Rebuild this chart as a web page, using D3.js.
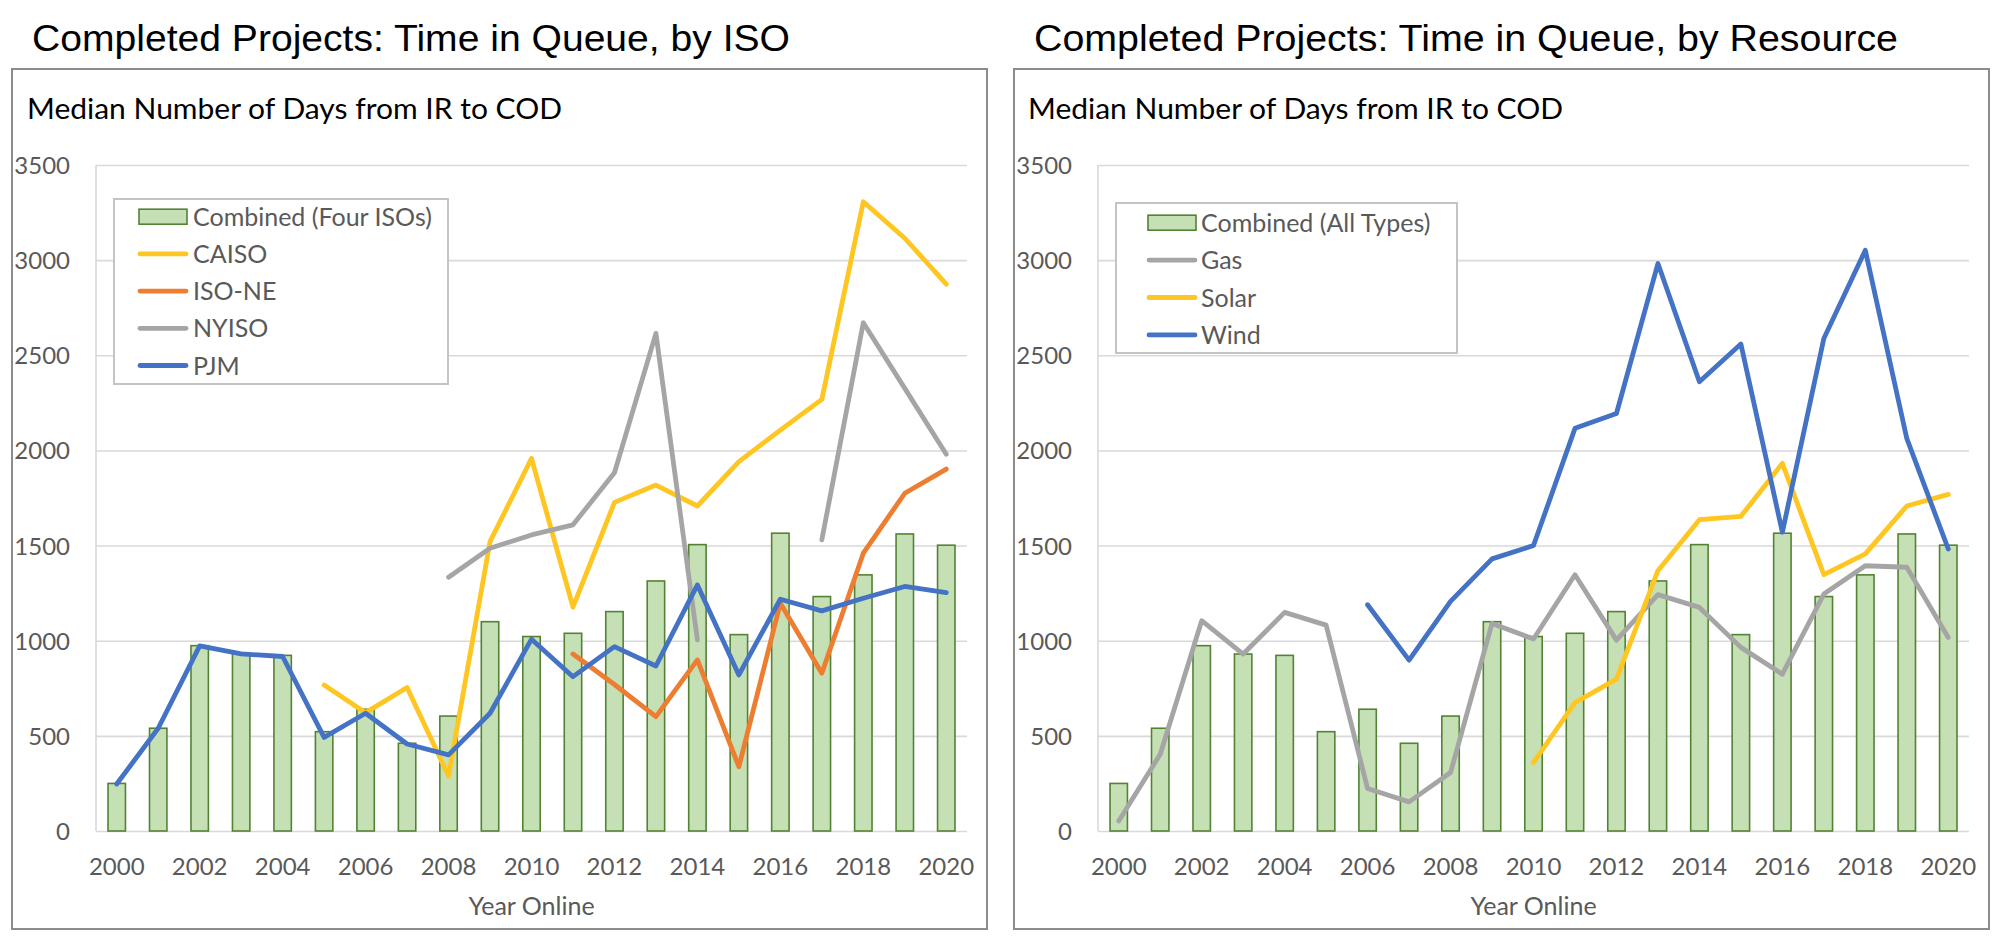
<!DOCTYPE html>
<html>
<head>
<meta charset="utf-8">
<script src="https://cdn.jsdelivr.net/npm/d3@7/dist/d3.min.js"></script>
<style>
  html, body { margin: 0; padding: 0; background: #fff; }
  svg { display: block; }
</style>
</head>
<body>
<svg id="chart" width="2000" height="939"></svg>
<script>
// ---------------- DATA ----------------
const years = [2000, 2001, 2002, 2003, 2004, 2005, 2006, 2007, 2008, 2009, 2010,
               2011, 2012, 2013, 2014, 2015, 2016, 2017, 2018, 2019, 2020];
const xTickYears = [2000, 2002, 2004, 2006, 2008, 2010, 2012, 2014, 2016, 2018, 2020];
const yTicks = [0, 500, 1000, 1500, 2000, 2500, 3000, 3500];

// Median number of days from IR to COD (combined bars, same in both panels)
const combined = [250, 540, 974, 930, 923, 522, 640, 461, 604, 1100, 1022,
                  1039, 1153, 1314, 1505, 1032, 1565, 1232, 1346, 1561, 1502];

// By ISO
const caiso = [null, null, null, null, null, 767, 622, 754, 289, 1521, 1958,
               1176, 1727, 1818, 1708, 1941, 2107, 2268, 3307, 3115, 2874];
const isone = [null, null, null, null, null, null, null, null, null, null, null,
               930, 770, 601, 899, 338, 1197, 829, 1460, 1775, 1902];
const nyiso = [null, null, null, null, null, null, null, null, 1334, 1486, 1556,
               1609, 1883, 2615, 1004, null, null, 1530, 2671, 2326, 1980];
const pjm   = [247, 540, 973, 931, 917, 492, 619, 457, 400, 619, 1008,
               811, 969, 867, 1293, 820, 1218, 1157, 1223, 1285, 1253];

// By resource
const gas   = [53, 403, 1105, 930, 1149, 1082, 223, 153, 307, 1091, 1009,
               1347, 1003, 1242, 1175, 965, 824, 1245, 1394, 1386, 1017];
const solar = [null, null, null, null, null, null, null, null, null, null, 360,
               675, 798, 1368, 1636, 1654, 1932, 1347, 1456, 1708, 1769];
const wind  = [null, null, null, null, null, null, 1189, 898, 1207, 1430, 1500,
               2116, 2194, 2982, 2361, 2559, 1570, 2588, 3052, 2063, 1482];

const leftTitle = "Completed Projects: Time in Queue, by ISO";
const rightTitle = "Completed Projects: Time in Queue, by Resource";
const subTitle = "Median Number of Days from IR to COD";
const xTitle = "Year Online";
const leftBarLabel = "Combined (Four ISOs)";
const rightBarLabel = "Combined (All Types)";

// ---------------- STYLE ----------------
const C = {
  yellow: "#FFC520", orange: "#ED7D31", gray: "#A5A5A5", blue: "#4472C4",
  barFill: "#C5E0B4", barStroke: "#548235",
  grid: "#D9D9D9", text: "#595959", frame: "#8C8C8C", legendBox: "#C4C4C4"
};
const SANS = "Lato, 'Open Sans', 'DejaVu Sans', sans-serif";

const svg = d3.select("#chart");
svg.append("rect").attr("width", 2000).attr("height", 939).attr("fill", "#fff");

function panel(cfg) {
  const g = svg.append("g").attr("transform", `translate(${cfg.dx},0)`);

  // Outer title
  g.append("text")
    .attr("x", 32).attr("y", 51)
    .attr("font-family", "'Liberation Sans', Arial, sans-serif")
    .attr("font-size", 37.5).attr("fill", "#000")
    .attr("textLength", cfg.titleLen).attr("lengthAdjust", "spacingAndGlyphs")
    .text(cfg.title);

  // Frame
  g.append("rect")
    .attr("x", 12).attr("y", 69).attr("width", 975).attr("height", 860)
    .attr("fill", "#fff").attr("stroke", C.frame).attr("stroke-width", 2);

  // Subtitle
  g.append("text")
    .attr("x", 27 + cfg.subDx).attr("y", 119)
    .attr("font-family", SANS).attr("font-size", 28).attr("fill", "#000")
    .attr("textLength", 535).attr("lengthAdjust", "spacingAndGlyphs")
    .text(subTitle);

  const plotL = 96, plotR = 967, plotT = 165, plotB = 831;
  const x = d3.scaleBand().domain(years).range([plotL, plotR]).paddingInner(0.58).paddingOuter(0.29);
  const xc = d => x(d) + x.bandwidth() / 2;
  const y = d3.scaleLinear().domain([0, 3500]).range([plotB, plotT]);

  // Gridlines
  const grid = g.append("g").attr("transform", `translate(${plotL},0)`)
    .call(d3.axisLeft(y).tickValues(yTicks).tickSize(-(plotR - plotL)).tickFormat(""));
  grid.select(".domain").remove();
  grid.selectAll(".tick line").attr("stroke", C.grid).attr("stroke-width", 1.6);
  // y axis line
  g.append("line").attr("x1", plotL).attr("x2", plotL).attr("y1", plotT).attr("y2", plotB)
    .attr("stroke", C.grid).attr("stroke-width", 1.6);

  // Y tick labels
  const yAx = g.append("g").attr("transform", `translate(${plotL},0)`)
    .call(d3.axisLeft(y).tickValues(yTicks).tickSize(0).tickPadding(26).tickFormat(d3.format("d")));
  yAx.select(".domain").remove();
  yAx.selectAll("text").attr("font-family", SANS).attr("font-size", 24)
    .attr("fill", C.text).attr("dy", 8.5);

  // X tick labels
  const xAx = g.append("g").attr("transform", `translate(0,${plotB})`)
    .call(d3.axisBottom(x).tickValues(xTickYears).tickSize(0));
  xAx.select(".domain").remove();
  xAx.selectAll("text").attr("font-family", SANS).attr("font-size", 24)
    .attr("fill", C.text).attr("y", 44).attr("dy", 0);

  // X title
  g.append("text").attr("x", (plotL + plotR) / 2).attr("y", 915)
    .attr("text-anchor", "middle").attr("font-family", SANS).attr("font-size", 25)
    .attr("fill", C.text).text(xTitle);

  // Bars
  g.append("g").selectAll("rect").data(years.map((yr, i) => ({ yr, v: combined[i] })))
    .join("rect")
    .attr("x", d => x(d.yr)).attr("width", x.bandwidth())
    .attr("y", d => y(d.v)).attr("height", d => y(0) - y(d.v))
    .attr("fill", C.barFill).attr("stroke", C.barStroke).attr("stroke-width", 1.6);

  // Lines
  const line = d3.line().defined(d => d.v != null).x(d => xc(d.yr)).y(d => y(d.v));
  cfg.series.forEach(s => {
    g.append("path")
      .datum(years.map((yr, i) => ({ yr, v: s.values[i] })))
      .attr("d", line).attr("fill", "none")
      .attr("stroke", s.color).attr("stroke-width", 4.8)
      .attr("stroke-linejoin", "round").attr("stroke-linecap", "round");
  });

  // Legend
  const L = cfg.legend;
  const lg = g.append("g");
  lg.append("rect").attr("x", L.x).attr("y", L.y).attr("width", L.w).attr("height", L.h)
    .attr("fill", "#fff").attr("stroke", C.legendBox).attr("stroke-width", 2);
  const items = [{ label: cfg.barLabel, bar: true }].concat(cfg.series);
  items.forEach((it, i) => {
    const cy = L.y0 + i * L.step;
    if (it.bar) {
      lg.append("rect").attr("x", L.sx).attr("y", cy - 7.5).attr("width", 48).attr("height", 15)
        .attr("fill", C.barFill).attr("stroke", C.barStroke).attr("stroke-width", 1.6);
    } else {
      lg.append("line").attr("x1", L.sx + 1).attr("x2", L.sx + 47).attr("y1", cy).attr("y2", cy)
        .attr("stroke", it.color).attr("stroke-width", 4.8).attr("stroke-linecap", "round");
    }
    lg.append("text").attr("x", L.tx).attr("y", cy + 9)
      .attr("font-family", SANS).attr("font-size", 25).attr("fill", C.text)
      .text(it.label);
  });
}

panel({
  dx: 0, title: leftTitle, titleLen: 758, subDx: 0, barLabel: leftBarLabel,
  series: [
    { label: "CAISO", values: caiso, color: C.yellow },
    { label: "ISO-NE", values: isone, color: C.orange },
    { label: "NYISO", values: nyiso, color: C.gray },
    { label: "PJM", values: pjm, color: C.blue }
  ],
  legend: { x: 114, y: 199, w: 334, h: 185, y0: 216.7, step: 37.2, sx: 139, tx: 193 }
});

panel({
  dx: 1002, title: rightTitle, titleLen: 864, subDx: -1, barLabel: rightBarLabel,
  series: [
    { label: "Gas", values: gas, color: C.gray },
    { label: "Solar", values: solar, color: C.yellow },
    { label: "Wind", values: wind, color: C.blue }
  ],
  legend: { x: 114, y: 203, w: 341, h: 150, y0: 222.7, step: 37.4, sx: 146, tx: 199 }
});
</script>
</body>
</html>
